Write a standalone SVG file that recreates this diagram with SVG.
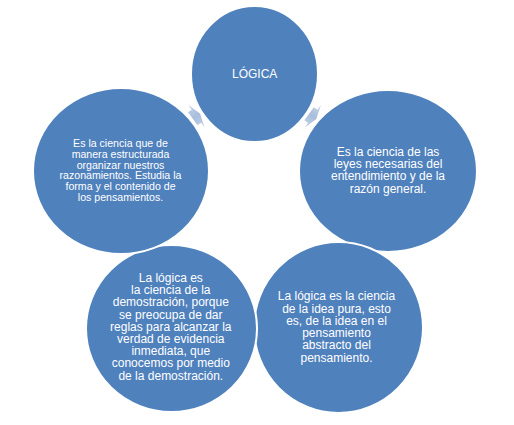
<svg xmlns="http://www.w3.org/2000/svg" width="514" height="425" viewBox="0 0 514 425">
<defs>
<linearGradient id="arrowGrad" x1="0" y1="0" x2="0" y2="1">
<stop offset="0" stop-color="#c6d3e7"/>
<stop offset="0.5" stop-color="#a9bedc"/>
<stop offset="1" stop-color="#c6d3e7"/>
</linearGradient>
<style>
.node{fill:#4f81bd;stroke:#ffffff;stroke-width:2}
.arrow{fill:url(#arrowGrad);stroke:none}
text{font-family:"Liberation Sans",Arial,sans-serif;fill:#ffffff;text-anchor:middle}
.t12{font-size:12px}
.t11{font-size:10.6px}
</style>
</defs>
<rect x="0" y="0" width="514" height="425" fill="#ffffff"/>
<g id="connectors">
<polygon class="arrow" transform="translate(196.4,116.2) rotate(-36)" points="-4.5,-8 0,-8 0,-14 4.5,0 0,14 0,8 -4.5,8"/>
<polygon class="arrow" transform="translate(312.7,116.3) rotate(36)" points="-4.5,-8 0,-8 0,-14 4.5,0 0,14 0,8 -4.5,8"/>
</g>
<g id="node-top">
<ellipse class="node" cx="254.5" cy="74" rx="63.5" ry="68"/>
<text class="t12" x="254.7" y="78">LÓGICA</text>
</g>
<g id="node-right">
<ellipse class="node" cx="388" cy="171" rx="89" ry="81"/>
<text class="t12" x="388" y="155.7">Es la ciencia de las</text>
<text class="t12" x="388" y="168">leyes necesarias del</text>
<text class="t12" x="388" y="180.3">entendimiento y de la</text>
<text class="t12" x="388" y="192.7">razón general.</text>
</g>
<g id="node-bottom-right">
<ellipse class="node" cx="338.5" cy="327.5" rx="84.5" ry="85.5"/>
<text class="t12" x="336.5" y="300">La lógica es la ciencia</text>
<text class="t12" x="336.5" y="312.5">de la idea pura, esto</text>
<text class="t12" x="336.5" y="324.8">es, de la idea en el</text>
<text class="t12" x="336.5" y="337.1">pensamiento</text>
<text class="t12" x="336.5" y="349.4">abstracto del</text>
<text class="t12" x="336.5" y="361.7">pensamiento.</text>
</g>
<g id="node-bottom-left">
<ellipse class="node" cx="171.5" cy="328.5" rx="85.5" ry="83.5"/>
<text class="t12" x="170.8" y="282">La lógica es</text>
<text class="t12" x="170.8" y="294.2">la ciencia de la</text>
<text class="t12" x="170.8" y="306.4">demostración, porque</text>
<text class="t12" x="170.8" y="318.6">se preocupa de dar</text>
<text class="t12" x="170.8" y="330.8">reglas para alcanzar la</text>
<text class="t12" x="170.8" y="343">verdad de evidencia</text>
<text class="t12" x="170.8" y="355.2">inmediata, que</text>
<text class="t12" x="170.8" y="367.4">conocemos por medio</text>
<text class="t12" x="170.8" y="379.6">de la demostración.</text>
</g>
<g id="node-left">
<ellipse class="node" cx="121" cy="171" rx="88" ry="83"/>
<text class="t11" x="120.5" y="146.7">Es la ciencia que de</text>
<text class="t11" x="120.5" y="157.6">manera estructurada</text>
<text class="t11" x="120.5" y="168.5">organizar nuestros</text>
<text class="t11" x="120.5" y="179.4">razonamientos. Estudia la</text>
<text class="t11" x="120.5" y="190.3">forma y el contenido de</text>
<text class="t11" x="120.5" y="201.2">los pensamientos.</text>
</g>
</svg>
